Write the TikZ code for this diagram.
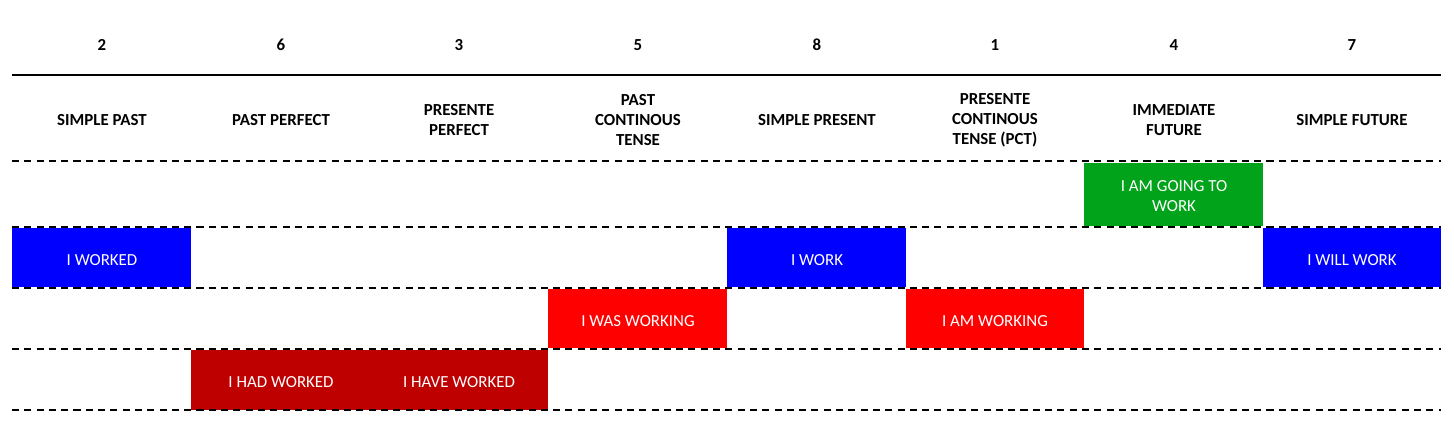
\documentclass[tikz,border=0pt]{standalone}
\usepackage{fontspec}
\setmainfont{Carlito}
\begin{document}
\begin{tikzpicture}[x=0.02cm,y=-0.02cm,
 hd/.style={font=\bfseries\fontsize{9.6}{11.5}\selectfont,align=center},
 bx/.style={font=\fontsize{9.6}{11.5}\selectfont,text=white,align=center,inner sep=0pt},
 dl/.style={dashed,line width=0.6pt,dash pattern=on 4pt off 3pt}]
\useasboundingbox (0,0) rectangle (1454,423);
\fill[blue] (12,228) rectangle (191,287);
\fill[blue] (727,228) rectangle (906,287);
\fill[blue] (1263,228) rectangle (1441,287);
\fill[red] (548,289) rectangle (727,348);
\fill[red] (906,289) rectangle (1084,348);
\fill[green!60!black!90!cyan] (1084,163) rectangle (1263,226);
\fill[red!75!black] (191,350) rectangle (548,410);
\foreach \n/\x/\t in {a/102/2,b/281/6,c/459/3,d/638/5,e/817/8,f/995/1,g/1174/4,h/1352/7}
  \node[hd] (n\n) at (\x,45) {\t};
\node[hd] (h1) at (102,120) {SIMPLE PAST};
\node[hd] (h2) at (281,120) {PAST PERFECT};
\node[hd] (h3) at (459,120) {PRESENTE\\PERFECT};
\node[hd] (h4) at (638,120) {PAST\\CONTINOUS\\TENSE};
\node[hd] (h5) at (817,120) {SIMPLE PRESENT};
\node[hd] (h6) at (995,120) {PRESENTE\\CONTINOUS\\TENSE (PCT)};
\node[hd] (h7) at (1174,120) {IMMEDIATE\\FUTURE};
\node[hd] (h8) at (1352,120) {SIMPLE FUTURE};
\coordinate (L0) at (12,75); \coordinate (R0) at (1441,75);
\draw[line width=1.2pt] (L0) -- (R0);
\foreach \y in {161,227,288,349,410} \draw[dl] (12,\y) -- (1441,\y);
\node[bx] (b1) at (102,260) {I WORKED};
\node[bx] (b2) at (817,260) {I WORK};
\node[bx] (b3) at (1352,260) {I WILL WORK};
\node[bx] (b4) at (638,321) {I WAS WORKING};
\node[bx] (b5) at (995,321) {I AM WORKING};
\node[bx] (b6) at (1174,196) {I AM GOING TO\\WORK};
\node[bx] (b7) at (281,382) {I HAD WORKED};
\node[bx] (b8) at (459,382) {I HAVE WORKED};
\end{tikzpicture}
\end{document}
